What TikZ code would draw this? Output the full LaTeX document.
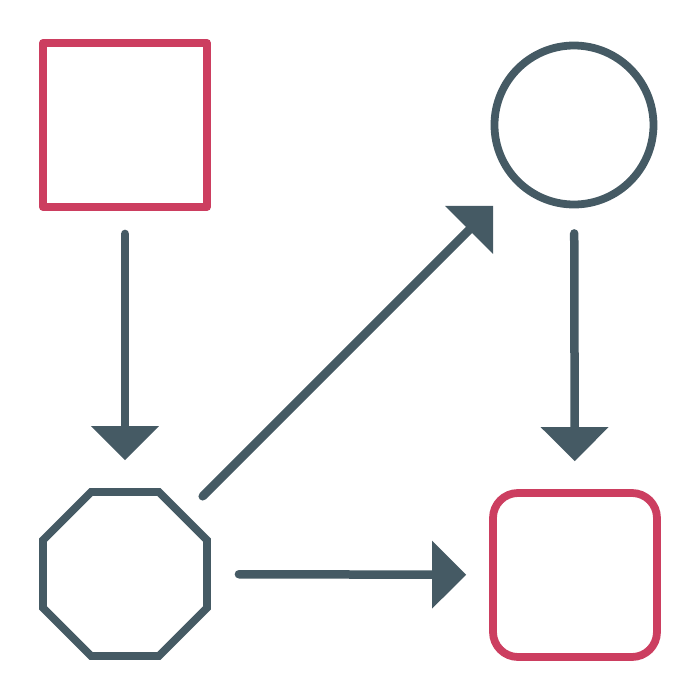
\documentclass[tikz,border=0pt]{standalone}
\usetikzlibrary{arrows.meta,shapes.geometric}
\definecolor{slate}{RGB}{69,90,100}
\definecolor{rose}{RGB}{204,62,96}

\begin{document}
\begin{tikzpicture}[
  shp/.style={draw, line width=0.078cm, inner sep=0pt, minimum size=1.64cm},
  flow/.style={color=slate, line width=0.085cm, line cap=round, -{Triangle[length=0.34cm,width=0.68cm,line width=0pt]}}
]
  \useasboundingbox (0,0) rectangle (7,7);
  \node[shp, rose, rectangle, line join=round] (src) at (1.25,5.75) {};
  \node[shp, slate, circle, minimum size=1.59cm] (circ) at (5.74,5.75) {};
  \node[shp, slate, regular polygon, regular polygon sides=8, minimum size=1.775cm] (oct) at (1.25,1.26) {};
  \node[shp, rose, rectangle, rounded corners=0.25cm] (dst) at (5.75,1.25) {};
  \path[flow]
  (src)  edge [shorten <=0.23cm, shorten >=0.28cm] (oct)
  (circ) edge [shorten <=0.25cm, shorten >=0.28cm] (dst)
  (oct)  edge [shorten <=0.24cm, shorten >=0.31cm] (circ)
         edge [shorten <=0.28cm, shorten >=0.23cm] (dst);
\end{tikzpicture}
\end{document}
